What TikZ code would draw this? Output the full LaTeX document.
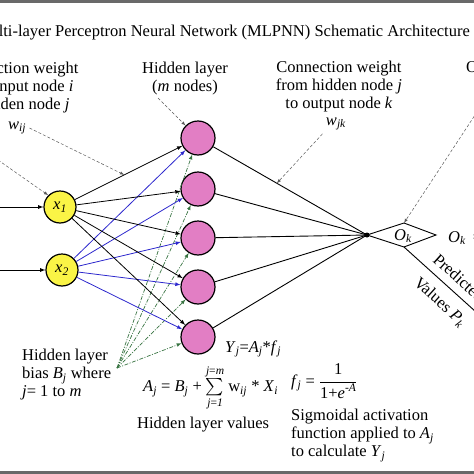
\documentclass[tikz,border=0pt]{standalone}
\usepackage{fontspec}
\setmainfont{Liberation Serif}
\usepackage{amsmath}
\usepackage{xcolor}
\definecolor{hidPink}{RGB}{226,126,196}
\definecolor{inYellow}{RGB}{250,244,70}
\definecolor{wBlue}{RGB}{45,40,205}
\definecolor{biasGreen}{RGB}{55,115,65}
\definecolor{barGrey}{RGB}{105,105,105}
\newcommand{\vsub}[2]{\textit{#1}\textsubscript{\textit{#2}}}

\begin{document}
\begin{tikzpicture}[
    x=1pt, y=-1pt,
    font=\fontsize{16.5}{18}\selectfont,
    inp/.style={circle, minimum size=32pt, inner sep=0, draw=black, line width=1.2pt, fill=inYellow},
    hid/.style={circle, minimum size=34pt, inner sep=0, draw=black, line width=1.2pt, fill=hidPink},
    wx/.style={line width=0.8pt, -latex},
    wb/.style={wx, draw=wBlue},
    bias/.style={line width=0.7pt, draw=biasGreen, dash pattern=on 4pt off 1.5pt on 1pt off 1.5pt, -latex},
    note/.style={line width=0.5pt, draw=black!65, densely dashed, -latex},
    lbl/.style={align=center, inner sep=0},
  ]
  \useasboundingbox (0,0) rectangle (474,474);
  \clip (0,0) rectangle (474,474);
  \fill[barGrey] (0,0) rectangle (474,3);
  \fill[barGrey] (0,471) rectangle (474,474);

  % title and labels
  \node[inner sep=0, anchor=base east] (title) at (470,36) {Multi-layer Perceptron Neural Network (MLPNN) Schematic Architecture};
  \node[lbl, anchor=north] (cwi) at (16,62) {Connection weight\\from input node \textit{i}\\to hidden node \textit{j}};
  \node[lbl, anchor=north] (hl) at (185,62) {Hidden layer\\(\textit{m} nodes)};
  \node[lbl, anchor=north] (cwj) at (339,61) {Connection weight\\from hidden node \textit{j}\\to output node \textit{k}};
  \node[lbl, anchor=north west] (ol) at (466,61) {Output layer};
  \node (wij) at (17,128) {\vsub{w}{ij}};
  \node (wjk) at (336,124) {\vsub{w}{jk}};

  % nodes
  \node[inp] (x1) at (60,207) {\vsub{x}{1}};
  \node[inp] (x2) at (62,270) {\vsub{x}{2}};
  \foreach \y [count=\j] in {138,189,238,287,337}
    \node[hid] (h\j) at (198,\y) {};
  \node[circle, fill=black, inner sep=0, minimum size=5pt] (O) at (367,235) {};
  \coordinate (ktop) at (404,223);
  \coordinate (kright) at (436,235);
  \coordinate (kbot) at (404,247);
  \node (ok) at (403,236) {\vsub{O}{k}};
  \node[anchor=west, inner sep=0] (okv) at (448,238) {\vsub{O}{k} \,=};

  \coordinate (in1) at (-2,207);
  \coordinate (in2) at (-2,270);
  \coordinate (B) at (117,368);
  \coordinate (pend) at (486,321);

  % input arrows
  \draw[wx] (in1) -- (x1);
  \draw[wx] (in2) -- (x2);

  % weights, bias, hidden to output
  \foreach \j in {1,...,5} {
    \draw[wx] (x1) -- (h\j);
    \draw[wb] (x2) -- (h\j);
    \draw[bias] (B) -- (h\j);
    \draw[line width=0.9pt] (h\j) -- (O.center);
  }

  % output node
  \draw[line width=0.9pt] (O.center) -- (ktop) -- (kright) -- (kbot) -- cycle;
  \draw[line width=0.9pt] (kbot) -- (pend);
  \node[rotate=-42, anchor=base west, inner sep=0] (pred) at (432,261) {Predicted};
  \node[rotate=-42, anchor=base west, inner sep=0] (vals) at (413,284) {Values \vsub{P}{k}};

  % pointers
  \path (x1) -- (h1) coordinate[pos=0.46] (wijend);
  \path (h1) -- (O) coordinate[pos=0.42] (wjkend);
  \coordinate (cwiend) at (-2,160);
  \coordinate (olend) at (477,112);
  \draw[note] (wij.east) -- (wijend);
  \draw[note] (cwiend) -- (x1.135);
  \draw[note] (158,98) -- (h1.135);
  \draw[note] (wjk.south west) -- (wjkend);
  \draw[note] (olend) -- (ktop);

  % bottom texts
  \node[lbl, align=left, anchor=north west] (bl) at (22,349) {Hidden layer\\bias \vsub{B}{j} where\\\textit{j}= 1 to \textit{m}};
  \node[anchor=base west, inner sep=0] (yj) at (225,352) {\vsub{Y}{j}=\vsub{A}{j}*\vsub{f}{j}};
  \node[anchor=west, inner sep=0] (aj) at (143,388) {\vsub{A}{j} = \vsub{B}{j} + $\mathop{\textstyle\sum}\limits_{\text{\textit{j}=\textit{1}}}^{\text{\textit{j}=\textit{m}}}$ w\textsubscript{\textit{ij}} * \vsub{X}{i}};
  \node[anchor=base west, inner sep=0] (hv) at (137,428) {Hidden layer values};
  \node[anchor=west, inner sep=0] (fj) at (291,381) {\vsub{f}{j} = $\dfrac{\text{1}}{\text{1+\textit{e}\textsuperscript{-\textit{A}}}}$};
  \node[lbl, align=left, anchor=north west] (sig) at (291,409) {Sigmoidal activation\\function applied to \vsub{A}{j}\\to calculate \vsub{Y}{j}};
\end{tikzpicture}
\end{document}
